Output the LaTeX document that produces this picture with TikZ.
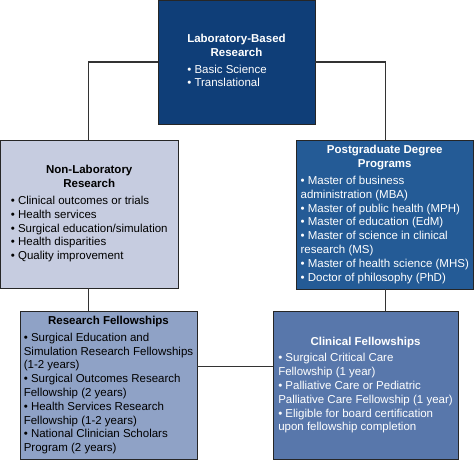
\documentclass[tikz,border=0pt]{standalone}
\usepackage{fontspec}
\setmainfont{Liberation Sans}
\usepackage{xcolor}
\usepackage{tikz}
\usetikzlibrary{positioning,calc}
\definecolor{labblue}{RGB}{15,62,120}
\definecolor{pgblue}{RGB}{36,91,150}
\definecolor{clinblue}{RGB}{88,119,171}
\definecolor{resblue}{RGB}{143,162,198}
\definecolor{nonlabgray}{RGB}{198,204,224}
\newcommand{\itm}{\textbullet\ }
\newcommand{\hd}[1]{\multicolumn{1}{@{}c@{}}{\bfseries #1}}

\begin{document}
\begin{tikzpicture}[
    x=1pt, y=-1pt,
    box/.style={draw=black!85, line width=0.9pt, inner sep=0pt},
    txt/.style={font=\fontsize{11.5}{13.8}\selectfont, inner sep=0pt},
    txtlight/.style={txt, white},
    link/.style={draw=black!80, line width=1.1pt}
]
\useasboundingbox (0,0) rectangle (474,460);
% BOXES
\node[box, fill=labblue, minimum width=157, minimum height=124] (lab) at (236.5,62) {};
\node[box, fill=nonlabgray, minimum width=177.5, minimum height=148] (nonlab) at (89.25,214) {};
\node[box, fill=pgblue, minimum width=177.5, minimum height=148.5] (pgrad) at (384.75,214.75) {};
\node[box, fill=resblue, minimum width=177, minimum height=148.5] (resfel) at (108.5,385.25) {};
\node[box, fill=clinblue, minimum width=185, minimum height=148.5] (clinfel) at (365.5,385.25) {};
% CONNECTORS
\draw[link] (lab.west) -| ([xshift=-1pt]nonlab.north);
\draw[link] (lab.east) -| ([xshift=1pt]pgrad.north);
\draw[link] ([xshift=-1pt]nonlab.south) -- ([xshift=-1pt]nonlab.south |- resfel.north);
\draw[link] ([xshift=1pt]pgrad.south) -- ([xshift=1pt]pgrad.south |- clinfel.north);
\draw[link] ([yshift=-56pt]resfel.north east) -- ([yshift=-56pt]clinfel.north west);
% TEXTS
\node[txtlight] (labtxt) at (lab.center) {\begin{tabular}{@{}l@{}}
    \hd{Laboratory-Based}\\ \hd{Research}\\[3pt]
    \itm Basic Science\\ \itm Translational
\end{tabular}};
\node[txt] (nonlabtxt) at (nonlab.center) {\begin{tabular}{@{}l@{}}
    \hd{Non-Laboratory}\\ \hd{Research}\\[3pt]
    \itm Clinical outcomes or trials\\ \itm Health services\\
    \itm Surgical education/simulation\\ \itm Health disparities\\
    \itm Quality improvement
\end{tabular}};
\node[txtlight] (pgradtxt) at (pgrad.center) {\begin{tabular}{@{}l@{}}
    \hd{Postgraduate Degree}\\ \hd{Programs}\\[3pt]
    \itm Master of business\\ administration (MBA)\\
    \itm Master of public health (MPH)\\ \itm Master of education (EdM)\\
    \itm Master of science in clinical\\ research (MS)\\
    \itm Master of health science (MHS)\\ \itm Doctor of philosophy (PhD)
\end{tabular}};
\node[txt] (resfeltxt) at (resfel.center) {\begin{tabular}{@{}l@{}}
    \hd{Research Fellowships}\\[3pt]
    \itm Surgical Education and\\ Simulation Research Fellowships\\ (1-2 years)\\
    \itm Surgical Outcomes Research\\ Fellowship (2 years)\\
    \itm Health Services Research\\ Fellowship (1-2 years)\\
    \itm National Clinician Scholars\\ Program (2 years)
\end{tabular}};
\node[txtlight] (clinfeltxt) at (clinfel.center) {\begin{tabular}{@{}l@{}}
    \hd{Clinical Fellowships}\\[3pt]
    \itm Surgical Critical Care\\ Fellowship (1 year)\\
    \itm Palliative Care or Pediatric\\ Palliative Care Fellowship (1 year)\\
    \itm Eligible for board certification\\ upon fellowship completion
\end{tabular}};
\end{tikzpicture}
\end{document}
